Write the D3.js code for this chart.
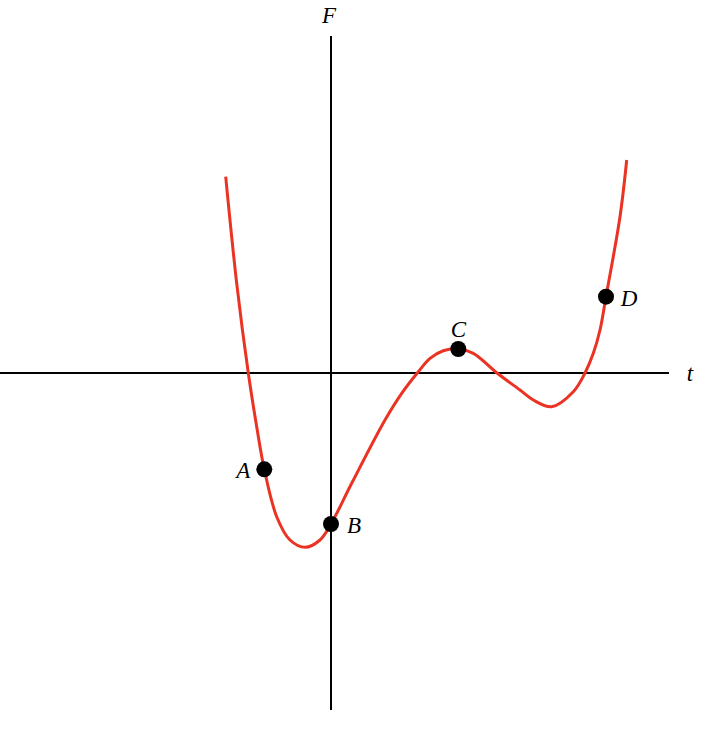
<!DOCTYPE html>
<html>
<head>
<meta charset="utf-8">
<script src="https://cdn.jsdelivr.net/npm/d3@7"></script>
<style>
  body { margin: 0; background: #fff; }
  text { font-family: "Liberation Serif", "DejaVu Serif", serif; font-style: italic; }
</style>
</head>
<body>
<div class="chart"></div>
<script>
// DATA ------------------------------------
// curve samples (t, F)
const curveT = [-1.053, -0.943, -0.827, -0.743, -0.667, -0.543, -0.41, -0.26, -0.11, 0.0, 0.207, 0.54, 0.707, 0.863, 0.99, 1.123, 1.273, 1.423, 1.66, 1.89, 2.023, 2.207, 2.423, 2.54, 2.623, 2.69, 2.75, 2.89, 2.957];
const curveF = [1.963, 0.897, 0.0, -0.537, -0.963, -1.437, -1.67, -1.743, -1.67, -1.51, -1.103, -0.47, -0.203, 0.0, 0.147, 0.223, 0.24, 0.197, 0.0, -0.17, -0.27, -0.337, -0.187, 0.0, 0.197, 0.43, 0.763, 1.563, 2.13];

// marked points
const pointNames = ['A', 'B', 'C', 'D'];
const pointT = [-0.667, 0.0, 1.273, 2.75];
const pointF = [-0.963, -1.51, 0.24, 0.763];

// axis titles
const xTitle = 't';
const yTitle = 'F';

// CHART -----------------------------------
const width = 726, height = 754;

const svg = d3.select('.chart')
    .append('svg')
    .attr('width', width)
    .attr('height', height);

const xScale = d3.scaleLinear()
    .domain([-3.31, 3.38])
    .range([0, 669]);

const yScale = d3.scaleLinear()
    .domain([-3.37, 3.37])
    .range([710, 36]);

// axes
svg.append('line')
    .attr('x1', xScale(-3.31)).attr('x2', xScale(3.38))
    .attr('y1', yScale(0)).attr('y2', yScale(0))
    .attr('stroke', '#000')
    .attr('stroke-width', 2);

svg.append('line')
    .attr('x1', xScale(0)).attr('x2', xScale(0))
    .attr('y1', yScale(3.37)).attr('y2', yScale(-3.37))
    .attr('stroke', '#000')
    .attr('stroke-width', 2);

svg.append('text')
    .attr('x', xScale(3.38) + 21)
    .attr('y', yScale(0) + 8)
    .attr('text-anchor', 'middle')
    .attr('font-size', 23)
    .text(xTitle);

svg.append('text')
    .attr('x', xScale(0) - 2)
    .attr('y', 23)
    .attr('text-anchor', 'middle')
    .attr('font-size', 23)
    .text(yTitle);

// curve
const curveData = curveT.map((t, i) => ({ t: t, f: curveF[i] }));

const line = d3.line()
    .x(d => xScale(d.t))
    .y(d => yScale(d.f))
    .curve(d3.curveCatmullRom.alpha(0.5));

svg.append('path')
    .datum(curveData)
    .attr('d', line)
    .attr('fill', 'none')
    .attr('stroke', '#ea3323')
    .attr('stroke-width', 3);

// points
const pts = pointNames.map((n, i) => ({ name: n, t: pointT[i], f: pointF[i] }));

svg.selectAll('circle.pt')
    .data(pts)
    .enter()
    .append('circle')
    .attr('class', 'pt')
    .attr('cx', d => xScale(d.t))
    .attr('cy', d => yScale(d.f))
    .attr('r', 8)
    .attr('fill', '#000');

// label offsets: A left, B right, C above, D right
const labelDx = { A: -21, B: 23, C: 0, D: 23 };
const labelDy = { A: 9, B: 9, C: -12, D: 9 };

svg.selectAll('text.lbl')
    .data(pts)
    .enter()
    .append('text')
    .attr('class', 'lbl')
    .attr('x', d => xScale(d.t) + labelDx[d.name])
    .attr('y', d => yScale(d.f) + labelDy[d.name])
    .attr('text-anchor', 'middle')
    .attr('font-size', 23)
    .text(d => d.name);
</script>
</body>
</html>
